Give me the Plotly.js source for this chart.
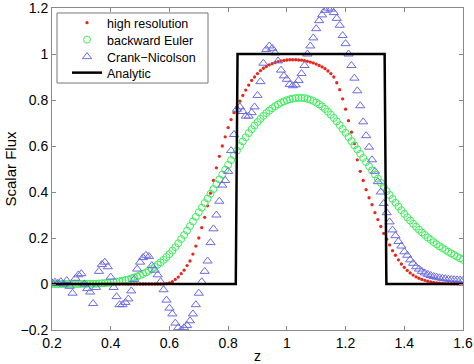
<!DOCTYPE html>
<html>
<head>
<meta charset="utf-8">
<script src="https://cdn.plot.ly/plotly-3.0.1.min.js"></script>
<style>html,body{margin:0;padding:0;background:#fff;}#chart{width:474px;height:364px;}</style>
</head>
<body>
<div id="chart"></div>
<script>
// grid positions z
const z = [0.20,0.21,0.22,0.23,0.24,0.25,0.26,0.27,0.28,0.29,
0.30,0.31,0.32,0.33,0.34,0.35,0.36,0.37,0.38,0.39,
0.40,0.41,0.42,0.43,0.44,0.45,0.46,0.47,0.48,0.49,
0.50,0.51,0.52,0.53,0.54,0.55,0.56,0.57,0.58,0.59,
0.60,0.61,0.62,0.63,0.64,0.65,0.66,0.67,0.68,0.69,
0.70,0.71,0.72,0.73,0.74,0.75,0.76,0.77,0.78,0.79,
0.80,0.81,0.82,0.83,0.84,0.85,0.86,0.87,0.88,0.89,
0.90,0.91,0.92,0.93,0.94,0.95,0.96,0.97,0.98,0.99,
1.00,1.01,1.02,1.03,1.04,1.05,1.06,1.07,1.08,1.09,
1.10,1.11,1.12,1.13,1.14,1.15,1.16,1.17,1.18,1.19,
1.20,1.21,1.22,1.23,1.24,1.25,1.26,1.27,1.28,1.29,
1.30,1.31,1.32,1.33,1.34,1.35,1.36,1.37,1.38,1.39,
1.40,1.41,1.42,1.43,1.44,1.45,1.46,1.47,1.48,1.49,
1.50,1.51,1.52,1.53,1.54,1.55,1.56,1.57,1.58,1.59,
1.60];

const highRes = [0,0,0,0,0,0,0,0,0,0,
0,0,0,0,0,0,0,0,0,0,
0,0,0,0,0,0,0,0,0,0,
0,0,0,0,0,0,0,0,0,0.002,
0.005,0.01,0.02,0.03,0.045,0.06,0.08,0.1,0.13,0.165,
0.2,0.245,0.29,0.34,0.395,0.45,0.505,0.555,0.6,0.64,
0.68,0.715,0.745,0.77,0.795,0.82,0.843,0.865,0.885,0.9,
0.915,0.928,0.938,0.946,0.953,0.958,0.963,0.967,0.97,0.972,
0.974,0.975,0.975,0.975,0.974,0.973,0.971,0.968,0.965,0.961,
0.956,0.95,0.944,0.936,0.926,0.915,0.9,0.875,0.845,0.805,
0.76,0.71,0.66,0.61,0.54,0.49,0.45,0.41,0.375,0.345,
0.31,0.28,0.25,0.22,0.195,0.17,0.145,0.125,0.105,0.087,
0.072,0.059,0.048,0.039,0.031,0.025,0.02,0.016,0.012,0.009,
0.007,0.005,0.004,0.003,0.002,0.002,0.001,0.001,0.001,0,
0];

const backwardEuler = [0,0,0,0,0,0,0,0,0,0,
0,0.001,0.001,0.001,0.001,0.001,0.002,0.003,0.004,0.005,
0.006,0.008,0.01,0.012,0.014,0.017,0.02,0.024,0.028,0.033,
0.038,0.044,0.05,0.057,0.065,0.074,0.084,0.094,0.105,0.117,
0.13,0.145,0.16,0.177,0.195,0.213,0.232,0.252,0.272,0.292,
0.312,0.332,0.352,0.372,0.392,0.413,0.434,0.455,0.476,0.497,
0.518,0.539,0.56,0.58,0.6,0.62,0.638,0.656,0.673,0.689,
0.704,0.718,0.731,0.743,0.754,0.764,0.773,0.781,0.788,0.794,
0.799,0.803,0.806,0.808,0.809,0.809,0.808,0.805,0.801,0.796,
0.789,0.781,0.772,0.761,0.749,0.736,0.722,0.707,0.691,0.674,
0.657,0.639,0.621,0.603,0.585,0.566,0.548,0.53,0.512,0.494,
0.476,0.458,0.44,0.422,0.404,0.387,0.37,0.353,0.337,0.321,
0.305,0.29,0.276,0.262,0.249,0.236,0.224,0.213,0.202,0.192,
0.182,0.173,0.164,0.156,0.148,0.14,0.133,0.126,0.119,0.112,
0.105];

const crankNicolson = [0.005,0.008,0.003,0.01,0,0.015,-0.01,-0.04,0.025,0.04,
0.045,0,-0.02,-0.035,-0.085,-0.015,0.055,0.085,0.095,0.075,
0.03,-0.015,-0.055,-0.09,-0.09,-0.08,-0.065,-0.03,0.02,0.065,
0.095,0.115,0.125,0.12,0.08,0.06,0.04,0.01,-0.025,-0.07,
-0.105,-0.13,-0.17,-0.19,-0.2,-0.19,-0.18,-0.16,-0.13,-0.09,
-0.04,0.01,0.055,0.1,0.18,0.24,0.3,0.36,0.43,0.45,
0.49,0.58,0.65,0.76,0.77,0.75,0.73,0.73,0.745,0.77,
0.82,0.88,0.96,1.02,1.035,1.025,1.005,0.97,0.93,0.905,
0.89,0.868,0.862,0.866,0.885,0.915,0.95,1.0,1.035,1.07,
1.11,1.145,1.17,1.19,1.2,1.195,1.18,1.155,1.125,1.08,
1.045,1.0,0.95,0.895,0.84,0.775,0.705,0.645,0.595,0.54,
0.49,0.445,0.4,0.35,0.31,0.27,0.235,0.21,0.185,0.165,
0.14,0.125,0.105,0.09,0.075,0.065,0.055,0.048,0.042,0.037,
0.033,0.03,0.027,0.025,0.023,0.021,0.02,0.019,0.018,0.017,
0.016];

const analyticZ = [0.2, 0.826, 0.832, 1.333, 1.339, 1.6];
const analyticV = [0, 0, 1, 1, 0, 0];

const seriesNames = ['high resolution', 'backward Euler', 'Crank\u2212Nicolson', 'Analytic'];

const xTicks = [0.2,0.4,0.6,0.8,1,1.2,1.4,1.6];
const xTickText = ['0.2','0.4','0.6','0.8','1','1.2','1.4','1.6'];
const yTicks = [-0.2,0,0.2,0.4,0.6,0.8,1,1.2];
const yTickText = ['\u22120.2','0','0.2','0.4','0.6','0.8','1','1.2'];

const FONT = 'Liberation Sans, Arial, Helvetica, sans-serif';

const traces = [
  {x: z, y: highRes, type: 'scatter', mode: 'markers', name: seriesNames[0], legend: 'legend',
   marker: {symbol: 'circle', size: 3.3, color: '#e8281c', line: {width: 0}}},
  {x: z, y: backwardEuler, type: 'scatter', mode: 'markers', name: seriesNames[1], legend: 'legend2',
   marker: {symbol: 'circle-open', size: 7, color: '#3cec5c', line: {width: 1}}},
  {x: z, y: crankNicolson, type: 'scatter', mode: 'markers', name: seriesNames[2], legend: 'legend3',
   marker: {symbol: 'triangle-up-open', size: 8, color: '#6a6ae2', line: {width: 1}}},
  {x: analyticZ, y: analyticV, type: 'scatter', mode: 'lines', name: seriesNames[3], legend: 'legend4',
   line: {color: '#000000', width: 2.5}}
];

function legendAt(y) {
  return {x: 0.0365, y: y, xanchor: 'left', yanchor: 'middle',
    bgcolor: 'rgba(0,0,0,0)', borderwidth: 0,
    font: {family: FONT, size: 12.5, color: '#000'}};
}

const layout = {
  width: 474, height: 364,
  margin: {l: 52, r: 11, t: 8, b: 34},
  paper_bgcolor: '#ffffff', plot_bgcolor: '#ffffff',
  font: {family: FONT, size: 14, color: '#000'},
  showlegend: true,
  legend: legendAt(0.9534),
  legend2: legendAt(0.9006),
  legend3: legendAt(0.8478),
  legend4: legendAt(0.7981),
  shapes: [{type: 'rect', xref: 'paper', yref: 'paper',
    x0: 0.0122, x1: 0.3796, y0: 0.767, y1: 0.9845,
    fillcolor: '#ffffff', line: {color: '#777777', width: 1}, layer: 'above'}],
  xaxis: {range: [0.2, 1.6], tickvals: xTicks, ticktext: xTickText,
    ticks: 'inside', ticklen: 4, tickcolor: '#888', mirror: 'ticks',
    showline: true, linecolor: '#888', linewidth: 1,
    showgrid: false, zeroline: false, ticklabeloverflow: 'allow',
    tickfont: {family: FONT, size: 14, color: '#000'},
    title: {text: 'z', font: {family: FONT, size: 14, color: '#000'}, standoff: 4}},
  yaxis: {range: [-0.2, 1.2], tickvals: yTicks, ticktext: yTickText,
    ticks: 'inside', ticklen: 4, tickcolor: '#888', mirror: 'ticks',
    showline: true, linecolor: '#888', linewidth: 1,
    showgrid: false, zeroline: false, ticklabeloverflow: 'allow',
    tickfont: {family: FONT, size: 14, color: '#000'},
    title: {text: 'Scalar Flux', font: {family: FONT, size: 15, color: '#000'}, standoff: 0}}
};

Plotly.newPlot('chart', traces, layout, {staticPlot: true, displayModeBar: false});
</script>
</body>
</html>
